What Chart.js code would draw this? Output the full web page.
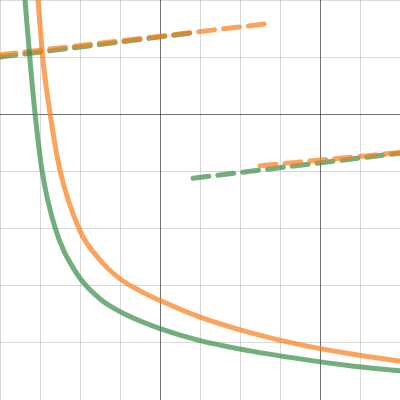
<!DOCTYPE html>
<html>
<head>
<meta charset="utf-8">
<script src="https://cdn.jsdelivr.net/npm/chart.js@4"></script>
<style>
  html, body { margin: 0; padding: 0; background: #fff; }
  #wrap { width: 400px; height: 400px; }
</style>
</head>
<body>
<div id="wrap"><canvas id="chart"></canvas></div>
<script>
// values (grid units)
const greenCurveX = [0.625, 0.75, 0.875, 1.05, 1.375, 1.875, 2.5, 3.25, 4, 5, 6.25, 7.5, 8.75, 10];
const greenCurveY = [7, 5.95, 5.02, 4.02, 3.02, 2.26, 1.77, 1.46, 1.25, 1.04, 0.86, 0.72, 0.6, 0.51];
const orangeCurveX = [0.95, 1.075, 1.25, 1.5, 2, 2.5, 3, 3.5, 4, 5, 6.25, 7.5, 8.75, 10];
const orangeCurveY = [7, 5.95, 5.02, 4.02, 2.96, 2.45, 2.12, 1.91, 1.74, 1.45, 1.18, 0.97, 0.81, 0.68];
const orangeTopX = [0, 6.625];
const orangeTopY = [6.04, 6.58];
const greenTopX = [0, 4.875];
const greenTopY = [6.0, 6.43];
const orangeLowX = [6.5, 10];
const orangeLowY = [4.1, 4.33];
const greenLowX = [4.825, 10];
const greenLowY = [3.88, 4.32];

const orange = 'rgba(250,126,25,0.7)';
const green = 'rgba(56,140,70,0.7)';
const pts = (xs, ys) => xs.map((x, i) => ({ x, y: ys[i] }));

const line = (xs, ys, color, dashed) => ({
    data: pts(xs, ys),
    showLine: true,
    borderColor: color,
    borderWidth: 5,
    borderDash: dashed ? [16, 9] : [],
    pointRadius: 0,
    cubicInterpolationMode: dashed ? 'default' : 'monotone',
    borderCapStyle: 'round'
});

const gridColor = major => ctx => major.includes(ctx.tick.value) ? 'rgba(0,0,0,0.55)' : 'rgba(0,0,0,0.15)';

new Chart(document.getElementById('chart'), {
    type: 'scatter',
    data: {
        datasets: [
            line(orangeCurveX, orangeCurveY, orange, false),
            line(greenCurveX, greenCurveY, green, false),
            line(orangeTopX, orangeTopY, orange, true),
            line(greenTopX, greenTopY, green, true),
            line(orangeLowX, orangeLowY, orange, true),
            line(greenLowX, greenLowY, green, true)
        ]
    },
    options: {
        responsive: true,
        maintainAspectRatio: false,
        animation: false,
        layout: { padding: 0 },
        plugins: { legend: { display: false }, tooltip: { enabled: false } },
        scales: {
            x: {
                min: 0, max: 10,
                ticks: { display: false, stepSize: 1 },
                grid: { color: gridColor([4, 8]), lineWidth: 1, drawTicks: false },
                border: { display: false }
            },
            y: {
                min: 0, max: 7,
                ticks: { display: false, stepSize: 1 },
                grid: { color: gridColor([0, 5]), lineWidth: 1, drawTicks: false },
                border: { display: false }
            }
        }
    }
});
</script>
</body>
</html>
